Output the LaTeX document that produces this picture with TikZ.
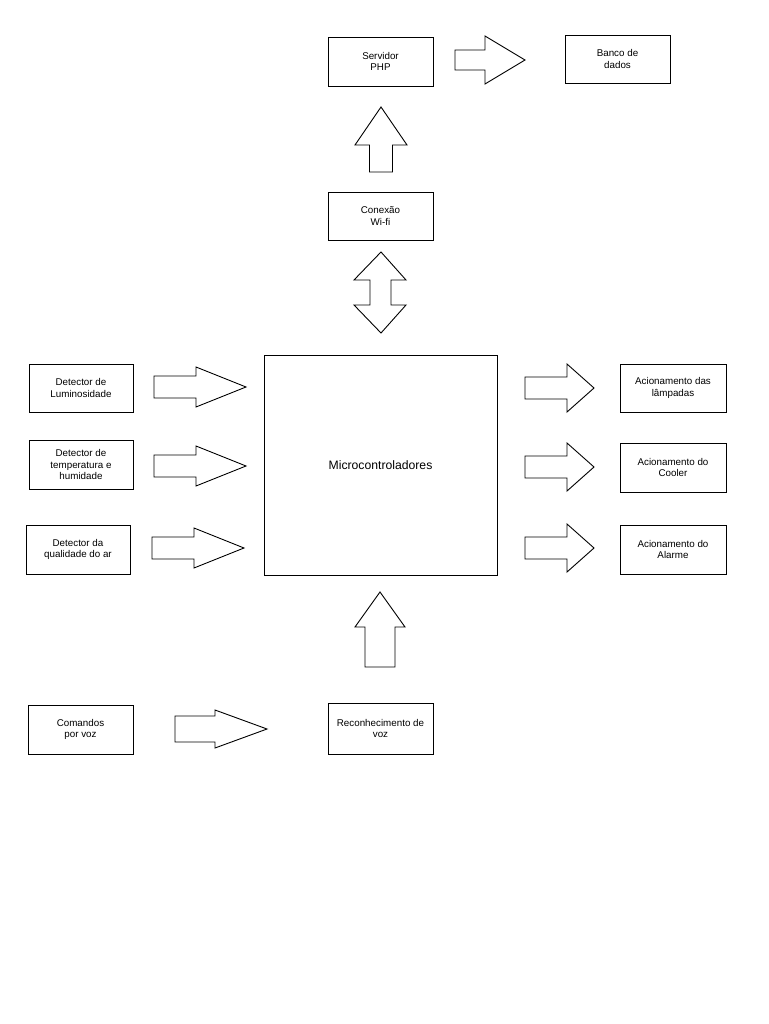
\documentclass[tikz,border=0pt]{standalone}
\usepackage{fontspec}
\setmainfont{Liberation Sans}
\begin{document}
\begin{tikzpicture}[x=1pt,y=-1pt,
  box/.style={draw,line width=0.9pt,align=center,font=\fontsize{9.8}{11.5}\selectfont,inner sep=0pt},
  barrow/.style={draw,line width=0.9pt,fill=white,line join=miter}]
\useasboundingbox (0,0) rectangle (768,1024);
\newcommand{\bx}[5]{\node[box,minimum width=#3-#1,minimum height=#4-#2] (#5) at ({(#1+#3)/2},{(#2+#4)/2})}
\bx{328}{37}{433}{86}{php} {Servidor\\PHP};
\bx{565}{35}{670}{83}{db} {Banco de\\dados};
\bx{328}{192}{433}{240}{wifi} {Conexão\\Wi-fi};
\node[box,minimum width=233,minimum height=220,font=\fontsize{12.2}{14}\selectfont] (mc) at (380.5,465) {Microcontroladores};
\bx{29}{364}{133}{412}{lum} {Detector de\\Luminosidade};
\bx{29}{440}{133}{489}{temp} {Detector de\\temperatura e\\humidade};
\bx{26}{525}{130}{574}{ar} {Detector da\\qualidade do ar};
\bx{620}{364}{726}{412}{lamp} {Acionamento das\\lâmpadas};
\bx{620}{443}{726}{492}{cool} {Acionamento do\\Cooler};
\bx{620}{525}{726}{574}{alarm} {Acionamento do\\Alarme};
\bx{28}{705}{133}{754}{cmd} {Comandos\\por voz};
\bx{328}{703}{433}{754}{rec} {Reconhecimento de\\voz};
\newcommand{\rarrow}[6]{\draw[barrow] (#1,#4-#5) -- (#2,#4-#5) -- (#2,#4-#6) -- (#3,#4) -- (#2,#4+#6) -- (#2,#4+#5) -- (#1,#4+#5) -- cycle;}
\newcommand{\uarrow}[6]{\draw[barrow] (#4-#5,#1) -- (#4-#5,#2) -- (#4-#6,#2) -- (#4,#3) -- (#4+#6,#2) -- (#4+#5,#2) -- (#4+#5,#1) -- cycle;}
\rarrow{455}{485}{525}{60}{10}{24}
\uarrow{172}{145}{107}{381}{11.5}{26}
\draw[barrow] (381,252) -- (406,280) -- (391,280) -- (391,305) -- (406,305) -- (381,333) -- (354,305) -- (370,305) -- (370,280) -- (354,280) -- cycle;
\rarrow{154}{196}{246}{387}{11}{20}
\rarrow{154}{196}{246}{466}{11}{20}
\rarrow{152}{194}{244}{548}{11}{20}
\rarrow{525}{567}{594}{388}{11}{24}
\rarrow{525}{567}{594}{467}{11}{24}
\rarrow{525}{567}{594}{548}{11}{24}
\uarrow{667}{627}{592}{380}{15}{25}
\rarrow{175}{215}{267}{729}{13}{19}
\end{tikzpicture}
\end{document}
